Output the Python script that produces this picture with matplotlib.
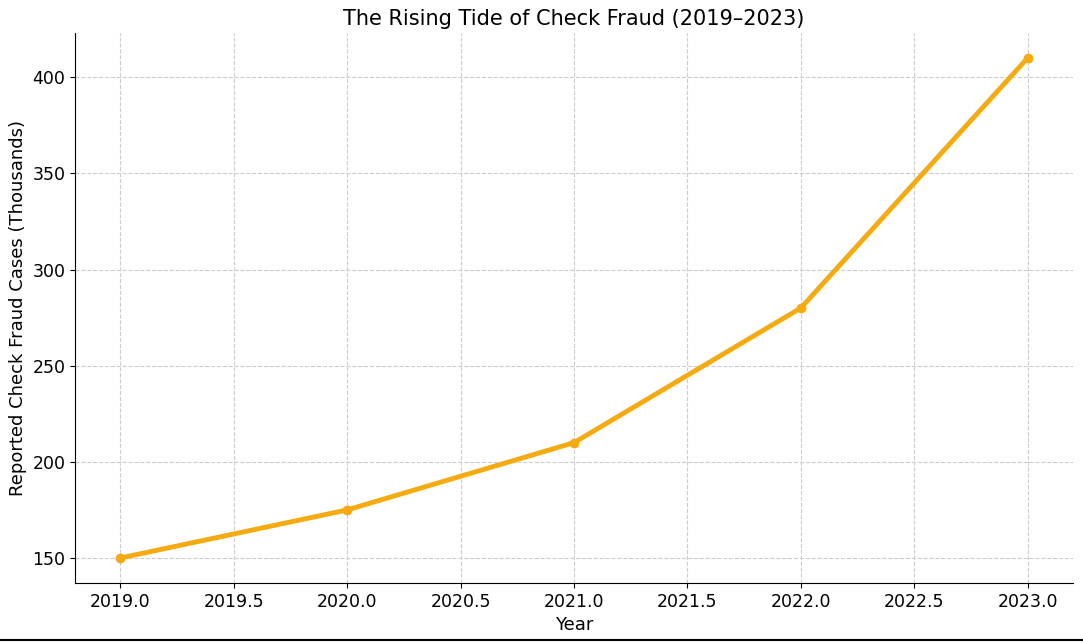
import matplotlib
matplotlib.use("Agg")
import matplotlib.pyplot as plt
from matplotlib.lines import Line2D

years = [2019, 2020, 2021, 2022, 2023]
cases = [150, 175, 210, 280, 410]

fig = plt.figure(figsize=(10.83, 6.44), dpi=100)
ax = fig.add_axes([75/1083, 1-583/644, (1073-75)/1083, (583-33)/644])
ax.plot(years, cases, color="#F5AA10", linewidth=3.5, marker="o", markersize=6)
ax.set_title("The Rising Tide of Check Fraud (2019\u20132023)", fontsize=15, pad=6)
ax.set_xlabel("Year", fontsize=13)
ax.set_ylabel("Reported Check Fraud Cases (Thousands)", fontsize=13)
ax.tick_params(labelsize=12.5)
ax.grid(True, linestyle="--", color="#cccccc", linewidth=0.8)
ax.spines["top"].set_visible(False)
ax.spines["right"].set_visible(False)
ax.set_axisbelow(True)
fig.add_artist(Line2D([0, 1], [1-640/644]*2, color="black", linewidth=1.5, transform=fig.transFigure))
fig.savefig("out.png", dpi=100)
